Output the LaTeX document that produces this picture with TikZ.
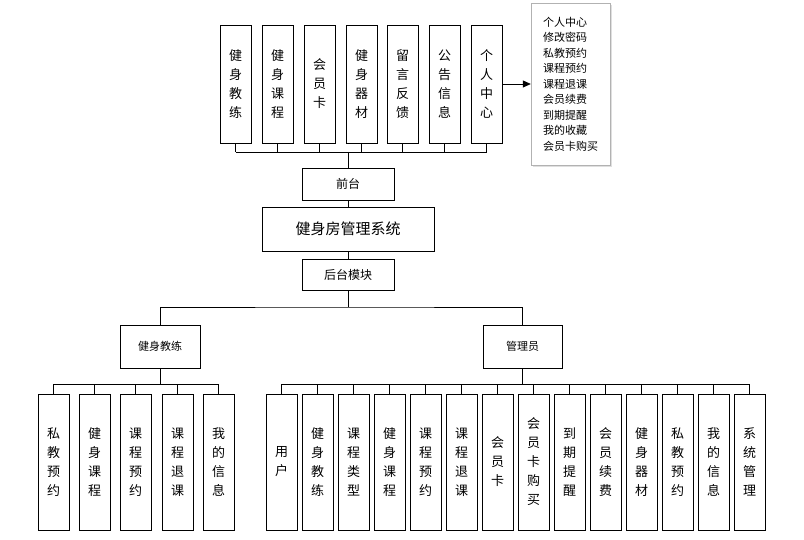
\documentclass[tikz,border=0pt]{standalone}
\usepackage{fontspec}
\setmainfont{Noto Sans CJK SC}
\usetikzlibrary{arrows.meta}
\begin{document}
\begin{tikzpicture}[x=1pt,y=-1pt,
  bx/.style={draw,thick,inner sep=0pt,align=center},
  vt/.style={bx,minimum width=31pt,font=\fontsize{13}{19}\selectfont},
  ln/.style={draw,semithick}]
\useasboundingbox (0,0) rectangle (804,540);
% top row
\foreach \n/\x/\t in {t1/220/健\\身\\教\\练, t2/262/健\\身\\课\\程, t3/304/会\\员\\卡, t4/346/健\\身\\器\\材, t5/387/留\\言\\反\\馈, t6/429/公\\告\\信\\息, t7/471/个\\人\\中\\心}{
  \node[vt,minimum height=118pt] (\n) at (\x+15.5,84) {\t};
  \draw[ln] (\n.south) -- ++(0,9);
}
\draw[ln] (235.5,152) -- (486.5,152);
\node[draw=gray!60,fill=white,inner sep=0pt,minimum width=79pt,minimum height=162pt,
  font=\fontsize{11}{15.5}\selectfont,align=left,
  preaction={fill=gray!25,transform canvas={xshift=2pt,yshift=-2pt}}] (side) at (570.5,84)
  {个人中心\\修改密码\\私教预约\\课程预约\\课程退课\\会员续费\\到期提醒\\我的收藏\\会员卡购买};
\draw[thick,-{Triangle[length=8pt,width=7pt]}] (t7.east) -- (side.west);
\node[bx,minimum width=92pt,minimum height=32pt,font=\fontsize{12}{14}\selectfont] (qt) at (348,184) {前台};
\node[bx,minimum width=172pt,minimum height=44pt,font=\fontsize{15}{18}\selectfont] (sys) at (348,229) {健身房管理系统};
\node[bx,minimum width=92pt,minimum height=31pt,font=\fontsize{12}{14}\selectfont] (ht) at (348,274.5) {后台模块};
\draw[thick] (348,152) -- (qt.north);
\draw[ln] (qt.south) -- (sys.north);
\draw[ln] (sys.south) -- (ht.north);
\node[bx,minimum width=80pt,minimum height=43pt,font=\fontsize{11}{14}\selectfont] (coach) at (160,346.5) {健身教练};
\node[bx,minimum width=79pt,minimum height=43pt,font=\fontsize{11}{14}\selectfont] (admin) at (522.5,346.5) {管理员};
\draw[ln] (ht.south) -- (348,307);
\draw[ln] (coach.north) |- (348,307) -| (admin.north);
% left bottom
\foreach \n/\x/\t in {l1/38/私\\教\\预\\约, l2/79/健\\身\\课\\程, l3/120/课\\程\\预\\约, l4/162/课\\程\\退\\课, l5/203/我\\的\\信\\息}{
  \node[vt,minimum height=136pt] (\n) at (\x+15.5,462) {\t};
  \draw[ln] (\n.north) -- ++(0,-10);
}
\draw[ln] (53.5,384) -- (218.5,384);
\draw[thick] (coach.south) -- (160,384);
\foreach \n/\x/\t in {r1/266/用\\户, r2/302/健\\身\\教\\练, r3/338/课\\程\\类\\型, r4/374/健\\身\\课\\程, r5/410/课\\程\\预\\约, r6/446/课\\程\\退\\课, r7/482/会\\员\\卡, r8/518/会\\员\\卡\\购\\买, r9/554/到\\期\\提\\醒, r10/590/会\\员\\续\\费, r11/626/健\\身\\器\\材, r12/662/私\\教\\预\\约, r13/698/我\\的\\信\\息, r14/734/系\\统\\管\\理}{
  \node[vt,minimum height=136pt] (\n) at (\x+15.5,462) {\t};
  \draw[ln] (\n.north) -- ++(0,-10);
}
\draw[ln] (281.5,384) -- (749.5,384);
\draw[thick] (admin.south) -- (522.5,384);
\end{tikzpicture}
\end{document}
